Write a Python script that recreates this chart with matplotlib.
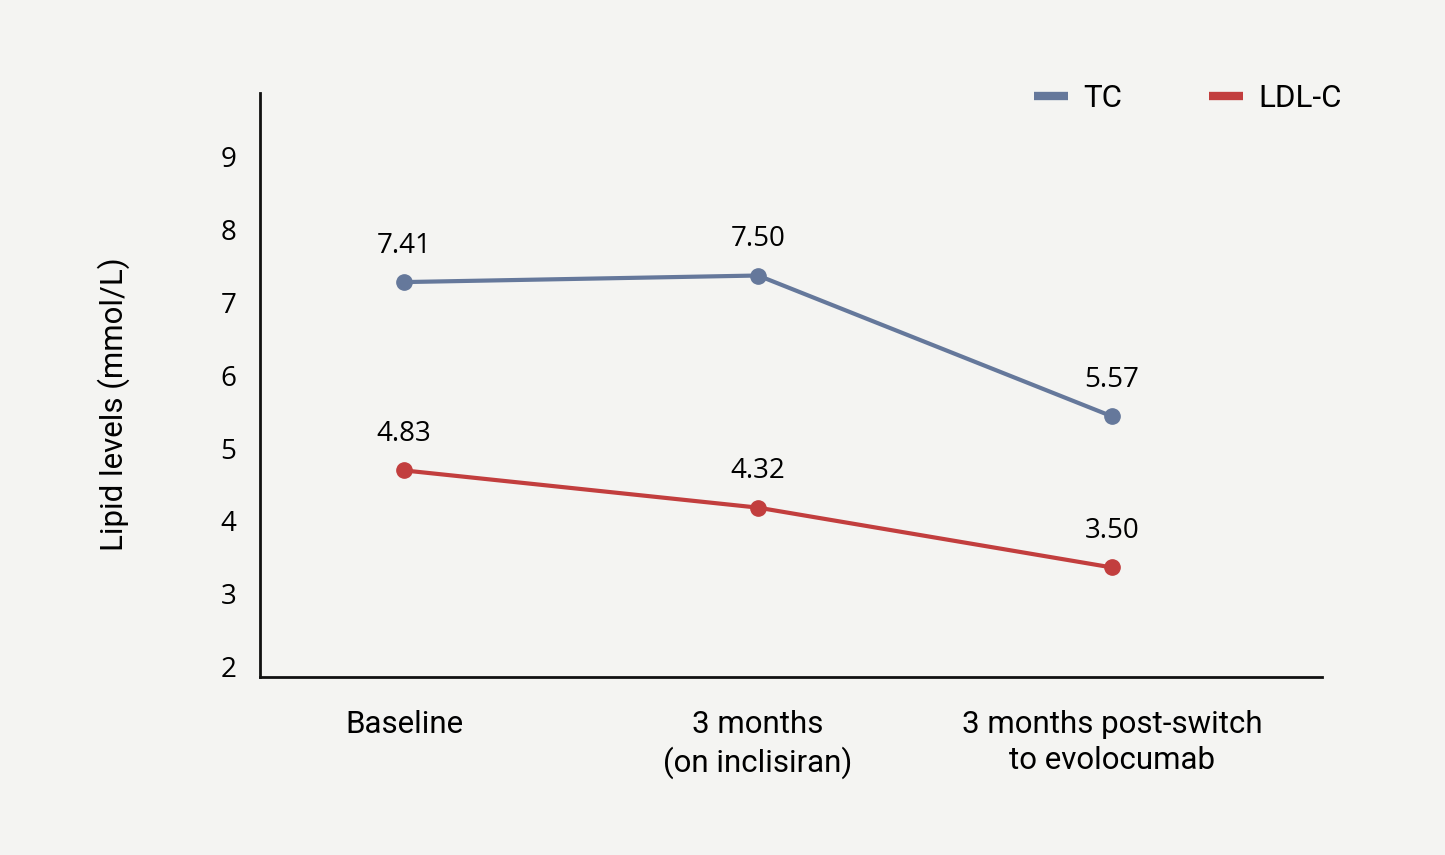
import matplotlib.pyplot as plt
import matplotlib.transforms as mtransforms

# Dữ liệu
categories = ['Baseline', '3 months\n(on inclisiran)', '3 months post-switch\nto evolocumab']
tc_values = [7.41, 7.50, 5.57]
ldl_values = [4.83, 4.32, 3.50]
y_ticks = [2, 3, 4, 5, 6, 7, 8, 9]

bg = '#f4f4f2'
tc_color = '#65789b'
ldl_color = '#c23e3e'

fig = plt.figure(figsize=(14.45, 8.55), dpi=100, facecolor=bg)
ax = fig.add_axes([0.1799, 0.2082, 0.7350, 0.6830])
ax.set_facecolor(bg)

x = list(range(len(categories)))
ax.plot(x, tc_values, color=tc_color, lw=3, marker='o', ms=11, label='TC')
ax.plot(x, ldl_values, color=ldl_color, lw=3, marker='o', ms=11, label='LDL-C')

for xi, v in zip(x, tc_values):
    ax.annotate(f'{v:.2f}', (xi, v), xytext=(0, 16), textcoords='offset points',
                ha='center', va='bottom', fontsize=20, family='Open Sans')
for xi, v in zip(x, ldl_values):
    ax.annotate(f'{v:.2f}', (xi, v), xytext=(0, 16), textcoords='offset points',
                ha='center', va='bottom', fontsize=20, family='Open Sans')

ax.set_xlim(-0.407, 2.593)
ax.set_ylim(2, 10)
ax.set_yticks(y_ticks)
ax.set_yticklabels([str(t) for t in y_ticks], fontsize=20, family='Open Sans')
ax.set_xticks(x)
ax.set_xticklabels(categories, fontsize=22.5, family='Roboto', linespacing=1.29)
ax.tick_params(axis='both', length=0)
ax.tick_params(axis='y', pad=17)
ax.tick_params(axis='x', pad=24)

# nhãn trục y hơi lệch lên so với vị trí tick
shift = mtransforms.ScaledTranslation(0, 10 / 100, fig.dpi_scale_trans)
for lab in ax.get_yticklabels():
    lab.set_transform(lab.get_transform() + shift)

for side in ['top', 'right']:
    ax.spines[side].set_visible(False)
for side in ['left', 'bottom']:
    ax.spines[side].set_linewidth(2)
    ax.spines[side].set_color('#111111')

ax.set_ylabel('Lipid levels (mmol/L)', fontsize=22.5, family='Roboto')
ax.yaxis.set_label_coords(-0.1224, 0.4675)

leg = ax.legend(loc='upper right', bbox_to_anchor=(1.019, 1.016), ncol=2, frameon=False,
                prop={'family': 'Roboto', 'size': 22.5}, handlelength=1.09,
                handletextpad=0.5, columnspacing=2.77, borderpad=0, borderaxespad=0)
for h in leg.get_lines():
    h.set_linewidth(6)
    h.set_marker('')
    h.set_solid_capstyle('butt')

fig.savefig('out.png', dpi=100, facecolor=bg)
